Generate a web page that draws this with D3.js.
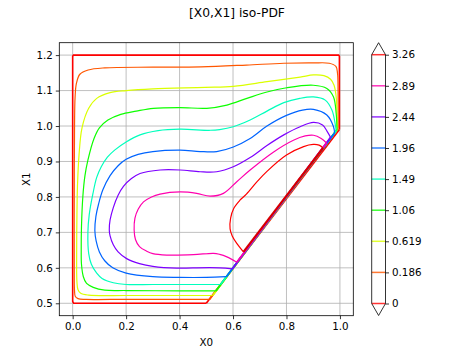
<!DOCTYPE html>
<html><head><meta charset="utf-8">
<script src="https://cdn.jsdelivr.net/npm/d3@7"></script>
<style>body{margin:0;background:#fff} svg{display:block;font-family:"DejaVu Sans",sans-serif}</style>
</head><body><svg id="c" width="474" height="355"></svg>
<script>
// ---- data ----
const levels = [0, 0.186, 0.619, 1.06, 1.49, 1.96, 2.44, 2.89, 3.26];
const levelLabels = ["0", "0.186", "0.619", "1.06", "1.49", "1.96", "2.44", "2.89", "3.26"];
const xTicks = [0, 0.2, 0.4, 0.6, 0.8, 1.0];
const yTicks = [0.5, 0.6, 0.7, 0.8, 0.9, 1.0, 1.1, 1.2];

// iso-lines, [X0, X1]; each closes back to its first point along the diagonal boundary
const iso0 = [[0.5,0.5],[0.004,0.5],[0.0,0.505],[0.0,1.197],[0.003,1.2],[0.995,1.2],[0.998,1.197],[0.998,0.99]];
const iso0186 = [[0.512,0.511],[0.4,0.511],[0.2,0.511],[0.05,0.511],[0.02,0.513],[0.01,0.519],[0.007,0.535],[0.006,0.6],[0.006,0.8],[0.007,1.0],[0.009,1.08],[0.014,1.12],[0.027,1.146],[0.058,1.158],[0.12,1.164],[0.3,1.166],[0.48,1.167],[0.65,1.172],[0.79,1.177],[0.9,1.178],[0.96,1.177],[0.985,1.168],[0.991,1.148],[0.993,1.1],[0.993,0.993]];
const iso0619 = [[0.524,0.522],[0.4,0.522],[0.2,0.522],[0.06,0.523],[0.03,0.528],[0.02,0.538],[0.016,0.56],[0.015,0.65],[0.016,0.75],[0.018,0.83],[0.024,0.92],[0.035,0.995],[0.06,1.05],[0.09,1.078],[0.14,1.094],[0.2,1.1],[0.3,1.105],[0.496,1.109],[0.601,1.112],[0.727,1.125],[0.851,1.138],[0.901,1.144],[0.94,1.142],[0.965,1.132],[0.978,1.115],[0.986,1.082],[0.989,1.03],[0.99,0.99]];
const iso106 = [[0.536,0.535],[0.4,0.535],[0.2,0.536],[0.12,0.537],[0.077,0.545],[0.052,0.556],[0.04,0.575],[0.033,0.61],[0.032,0.65],[0.033,0.716],[0.038,0.8],[0.046,0.86],[0.057,0.904],[0.08,0.965],[0.1,0.995],[0.132,1.017],[0.18,1.033],[0.238,1.042],[0.302,1.05],[0.402,1.052],[0.502,1.05],[0.577,1.059],[0.652,1.078],[0.727,1.096],[0.801,1.108],[0.9,1.115],[0.951,1.106],[0.976,1.082],[0.986,1.035],[0.989,0.99]];
const iso149 = [[0.553,0.553],[0.45,0.553],[0.3,0.553],[0.2,0.553],[0.152,0.558],[0.11,0.57],[0.09,0.585],[0.07,0.61],[0.06,0.64],[0.057,0.7],[0.062,0.75],[0.076,0.81],[0.09,0.855],[0.107,0.885],[0.13,0.912],[0.157,0.932],[0.2,0.955],[0.252,0.975],[0.32,0.987],[0.402,0.991],[0.514,0.988],[0.55,0.99],[0.601,0.998],[0.664,1.017],[0.727,1.042],[0.79,1.066],[0.85,1.078],[0.901,1.082],[0.945,1.073],[0.97,1.045],[0.982,1.007],[0.986,0.986]];
const iso196 = [[0.575,0.575],[0.5,0.573],[0.4,0.573],[0.3,0.575],[0.2,0.585],[0.15,0.6],[0.12,0.62],[0.1,0.645],[0.088,0.675],[0.083,0.705],[0.087,0.745],[0.097,0.78],[0.113,0.82],[0.14,0.86],[0.17,0.888],[0.2,0.906],[0.245,0.92],[0.3,0.928],[0.402,0.932],[0.477,0.928],[0.539,0.928],[0.601,0.941],[0.664,0.965],[0.727,1.0],[0.8,1.03],[0.86,1.045],[0.901,1.047],[0.951,1.031],[0.976,0.998],[0.98,0.98]];
const iso244 = [[0.597,0.597],[0.55,0.6],[0.45,0.6],[0.39,0.599],[0.3,0.604],[0.25,0.612],[0.202,0.626],[0.17,0.645],[0.152,0.665],[0.14,0.69],[0.137,0.707],[0.14,0.735],[0.152,0.77],[0.17,0.805],[0.19,0.83],[0.22,0.852],[0.252,0.866],[0.327,0.876],[0.402,0.876],[0.477,0.871],[0.539,0.871],[0.601,0.885],[0.664,0.911],[0.727,0.945],[0.79,0.975],[0.851,0.998],[0.901,1.01],[0.935,1.003],[0.952,0.985],[0.965,0.968]];
const iso289 = [[0.614,0.616],[0.577,0.631],[0.55,0.638],[0.527,0.641],[0.452,0.637],[0.352,0.636],[0.3,0.64],[0.277,0.647],[0.25,0.66],[0.235,0.68],[0.23,0.707],[0.233,0.74],[0.245,0.765],[0.265,0.786],[0.295,0.8],[0.327,0.808],[0.402,0.814],[0.464,0.81],[0.514,0.802],[0.564,0.81],[0.614,0.843],[0.664,0.876],[0.752,0.927],[0.826,0.96],[0.87,0.972],[0.901,0.974],[0.93,0.965],[0.95,0.952]];
const iso326 = [[0.639,0.645],[0.614,0.669],[0.597,0.69],[0.589,0.71],[0.591,0.74],[0.603,0.768],[0.625,0.79],[0.65,0.808],[0.69,0.843],[0.727,0.872],[0.8,0.918],[0.864,0.942],[0.9,0.948],[0.922,0.946],[0.937,0.938]];
const isoLines = [iso0, iso0186, iso0619, iso106, iso149, iso196, iso244, iso289, iso326];

// ---- layout ----
const svg = d3.select("#c");
const L = 59.3, R = 353.3, T = 42.7, B = 315.7;
const x = d3.scaleLinear().domain([-0.05, 1.05]).range([L, R]);
const y = d3.scaleLinear().domain([0.465, 1.235]).range([B, T]);
const vmax = d3.max(levels);
const color = v => d3.hsl(v / vmax * 360, 1, 0.5).toString();

// title
svg.append("text").attr("x", 237).attr("y", 17).attr("text-anchor", "middle")
  .attr("font-size", 12.3).attr("fill", "#000").text("[X0,X1] iso-PDF");

// grid
const g = svg.append("g");
g.selectAll(".vg").data(xTicks).join("line")
  .attr("x1", d => x(d)).attr("x2", d => x(d)).attr("y1", T).attr("y2", B)
  .attr("stroke", "#b0b0b0").attr("stroke-width", 0.8);
g.selectAll(".hg").data(yTicks).join("line")
  .attr("y1", d => y(d)).attr("y2", d => y(d)).attr("x1", L).attr("x2", R)
  .attr("stroke", "#b0b0b0").attr("stroke-width", 0.8);

// clip
svg.append("clipPath").attr("id", "clip").append("rect")
  .attr("x", L).attr("y", T).attr("width", R - L).attr("height", B - T);
const plot = svg.append("g").attr("clip-path", "url(#clip)");

const curveLine = d3.line().x(d => x(d[0])).y(d => y(d[1])).curve(d3.curveCatmullRom.alpha(0.5));
const straight = d3.line().x(d => x(d[0])).y(d => y(d[1]));

isoLines.forEach((pts, i) => {
  const c = color(levels[i]);
  const gen = i === 0 ? straight : curveLine;
  plot.append("path").attr("d", gen(pts)).attr("fill", "none")
    .attr("stroke", c).attr("stroke-width", i === 0 ? 1.6 : 1.2);
  plot.append("path").attr("d", straight([pts[pts.length - 1], pts[0]])).attr("fill", "none")
    .attr("stroke", i === levels.length - 1 ? d3.color(c).darker(0.5).toString() : c)
    .attr("stroke-width", i === levels.length - 1 ? 2.1 : 1.7);
});

// axes
const xAxis = svg.append("g").attr("transform", `translate(0,${B})`)
  .call(d3.axisBottom(x).tickValues(xTicks).tickFormat(d3.format(".1f")).tickSize(3.5).tickPadding(3));
const yAxis = svg.append("g").attr("transform", `translate(${L},0)`)
  .call(d3.axisLeft(y).tickValues(yTicks).tickFormat(d3.format(".1f")).tickSize(3.5).tickPadding(3));
[xAxis, yAxis].forEach(a => {
  a.select(".domain").remove();
  a.selectAll("text").attr("font-size", 10.3).attr("fill", "#000").attr("font-family", "DejaVu Sans");
  a.selectAll("line").attr("stroke", "#000").attr("stroke-width", 0.8);
});
svg.append("rect").attr("x", L).attr("y", T).attr("width", R - L).attr("height", B - T)
  .attr("fill", "none").attr("stroke", "#000").attr("stroke-width", 0.8);

svg.append("text").attr("x", (L + R) / 2).attr("y", 346).attr("text-anchor", "middle")
  .attr("font-size", 10.3).text("X0");
svg.append("text").attr("transform", `translate(29.5,${(T + B) / 2}) rotate(-90)`)
  .attr("text-anchor", "middle").attr("font-size", 10.3).text("X1");

// colorbar
const cbL = 371.7, cbR = 385.5, cbT = 54.7, cbB = 303.5, cbTip = 12;
const cb = d3.scalePoint().domain(levelLabels).range([cbB, cbT]);
const cbx = (cbL + cbR) / 2;
svg.append("path")
  .attr("d", `M${cbL},${cbT}L${cbx},${cbT - cbTip}L${cbR},${cbT}L${cbR},${cbB}L${cbx},${cbB + cbTip}L${cbL},${cbB}Z`)
  .attr("fill", "#fff").attr("stroke", "none");
svg.selectAll(".cbl").data(levels).join("line")
  .attr("x1", cbL).attr("x2", cbR)
  .attr("y1", (d, i) => cb(levelLabels[i])).attr("y2", (d, i) => cb(levelLabels[i]))
  .attr("stroke", d => color(d)).attr("stroke-width", 1.5).attr("opacity", 0.8);
svg.append("path")
  .attr("d", `M${cbL},${cbT}L${cbx},${cbT - cbTip}L${cbR},${cbT}L${cbR},${cbB}L${cbx},${cbB + cbTip}L${cbL},${cbB}Z`)
  .attr("fill", "none").attr("stroke", "#000").attr("stroke-width", 0.8);
const cbAxis = svg.append("g").attr("transform", `translate(${cbR},0)`)
  .call(d3.axisRight(cb).tickSize(3.5).tickPadding(3));
cbAxis.select(".domain").remove();
cbAxis.selectAll("text").attr("font-size", 10.3).attr("fill", "#000").attr("font-family", "DejaVu Sans");
cbAxis.selectAll("line").attr("stroke", "#000").attr("stroke-width", 0.8);
</script></body></html>
